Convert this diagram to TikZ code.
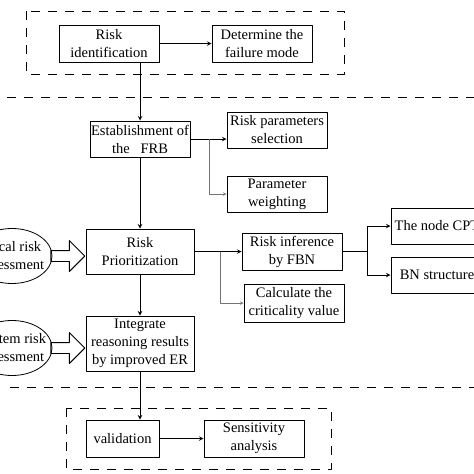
\documentclass[tikz,border=0pt]{standalone}
\usepackage{fontspec}
\setmainfont{Liberation Serif}
\usetikzlibrary{shapes.geometric,shapes.arrows,positioning}

\begin{document}
\begin{tikzpicture}[x=1pt, y=-1pt, >=stealth, line join=round, font=\fontsize{14.5}{18}\selectfont,
	box/.style={draw, line width=1pt, align=center, inner xsep=0pt, inner ysep=2pt, minimum width=100pt, minimum height=37pt},
	riskell/.style={draw, ellipse, line width=0.8pt, align=center, inner xsep=-8pt, inner ysep=0pt, minimum width=80pt, minimum height=55pt},
	hollow/.style={draw, single arrow, line width=0.9pt, inner sep=5pt, single arrow head extend=10pt, minimum height=34pt, anchor=tip},
	link/.style={->, line width=1pt},
	branch/.style={->, line width=0.6pt, draw=black!55},
	frame/.style={dash pattern=on 9pt off 8pt, line width=0.9pt}]
	\useasboundingbox (0,0) rectangle (474,474);
	\clip (0,0) rectangle (474,474);
	
	% stage frames
	\draw[frame] (26,11) rectangle (344,74);
	\draw[frame] (7,97) -- (474,97);
	\draw[frame] (10,387) -- (474,387);
	\draw[frame] (66,408) rectangle (331,469);
	
	% identification
	\node[box] (riskid) at (109,43.5) {Risk\\identification};
	\node[box] (failmode) at (262,43.5) {Determine the\\failure mode};
	
	% analysis
	\node[box, minimum height=36pt] (estab) at (140,139) {Establishment of\\the\ \ \ FRB};
	\node[box, minimum height=36pt] (params) at (277,130) {Risk parameters\\selection};
	\node[box, minimum height=36pt] (weight) at (277,194) {Parameter\\weighting};
	\node[box, minimum width=108pt, minimum height=45pt] (prio) at (140,251.5) {Risk\\Prioritization};
	\node[box] (infer) at (292,251.5) {Risk inference\\by FBN};
	\node[box, minimum height=38pt] (calc) at (294,303) {Calculate the\\criticality value};
	\node[box, minimum width=92pt, minimum height=36pt] (cpt) at (437,226) {The node CPT};
	\node[box, minimum width=92pt, minimum height=36pt] (bn) at (437,275) {BN structure};
	\node[box, minimum width=108pt, minimum height=55pt] (integ) at (140,343.5) {Integrate\\reasoning results\\by improved ER};
	\node[riskell] (local) at (12,256) {Local risk\\assessment};
	\node[riskell] (system) at (12,348) {System risk\\assessment};
	
	% validation
	\node[box, minimum width=73pt] (valid) at (122.5,438.5) {validation};
	\node[box] (sens) at (254,438.5) {Sensitivity\\analysis};
	
	% connectors
	\coordinate (forkA) at (209,139);
	\coordinate (forkB) at (220,251.5);
	\coordinate (forkC) at (367,251.5);
	\draw[link] (riskid) -- (failmode);
	\draw[link] (estab.north |- riskid.south) -- (estab);
	\draw[link] (estab) -- (params.west |- estab);
	\draw[branch] (forkA) |- (weight);
	\draw[link] (estab) -- (prio);
	\draw[link] (prio) -- (infer);
	\draw[branch] (forkB) |- (calc);
	\draw[line width=1pt] (infer) -- (forkC);
	\draw[link] (forkC) |- (cpt);
	\draw[link] (forkC) |- (bn);
	\draw[link] (prio) -- (integ);
	\draw[link] (integ) -- (integ |- valid.north);
	\draw[link] (valid) -- (sens);
	\node[hollow] (harrA) at (prio.west |- local) {};
	\node[hollow] (harrB) at (integ.west |- system) {};
\end{tikzpicture}
\end{document}
